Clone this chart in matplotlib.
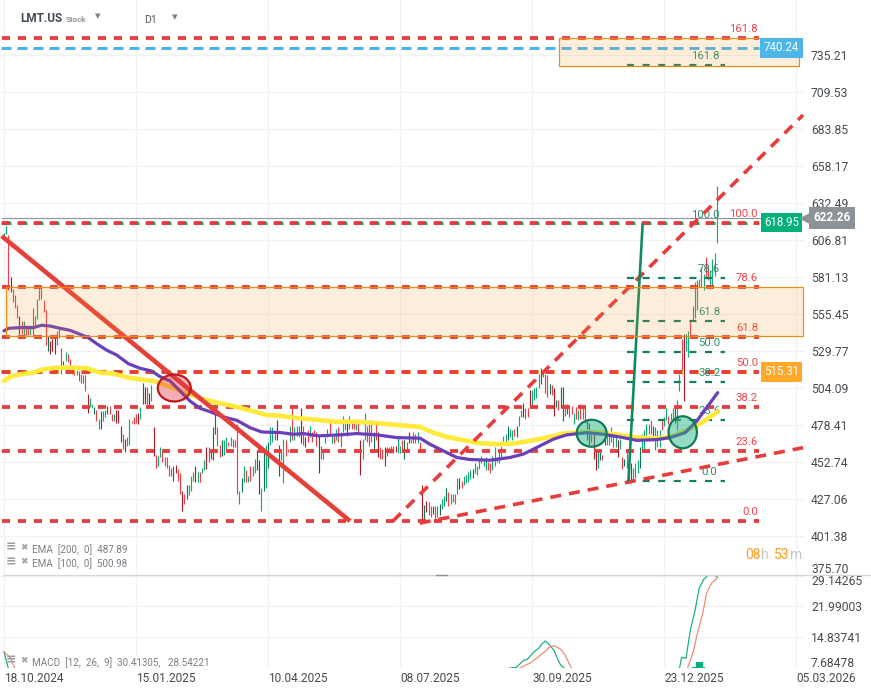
import matplotlib
matplotlib.use("Agg")
import matplotlib.pyplot as plt
from matplotlib.colors import to_rgba
from matplotlib.lines import Line2D
from matplotlib.patches import Ellipse, Rectangle

plt.rcParams["font.family"] = ["Roboto", "DejaVu Sans"]
plt.rcParams["lines.scale_dashes"] = False

W, H = 871, 694

# ---- candles, one high/low per session ----
highs = [
    612, 617, 610, 581, 573, 569, 562, 554, 551, 551,
    548, 547, 548, 560, 554, 566, 575, 575, 565, 558,
    540, 537, 538, 540, 544, 545, 532, 523, 529, 528,
    524, 519, 517, 517, 516, 514, 513, 513, 500, 497,
    493, 491, 489, 483, 488, 488, 489, 492, 492, 486,
    486, 489, 489, 478, 472, 469, 470, 483, 481, 484,
    486, 487, 491, 508, 505, 505, 501, 506, 477, 458,
    457, 463, 460, 456, 456, 451, 449, 450, 451, 448,
    445, 433, 431, 437, 437, 443, 446, 450, 446, 446,
    449, 454, 463, 463, 461, 477, 493, 477, 465, 468,
    468, 470, 467, 470, 469, 468, 479, 433, 442, 450,
    447, 443, 450, 450, 455, 461, 454, 435, 460, 465,
    467, 477, 477, 474, 482, 465,
    460, 469, 468, 462, 478, 490, 477, 478, 478, 490,
    478, 470, 475, 478, 474, 475, 474, 471, 464, 462,
    470, 476, 481, 471, 471, 476, 477, 474, 485, 481,
    482, 485, 482, 481, 479, 482, 468, 469, 487, 478,
    482, 479, 474, 479, 474, 463, 462, 463, 463, 463,
    464, 464, 464, 470, 464, 468, 468, 467, 474, 469,
    474, 472, 474, 467, 437, 423, 426, 425, 422, 422,
    422, 422, 424, 427, 429, 435, 432, 431, 431, 431,
    442, 442, 440, 443, 444, 446, 447, 448, 452, 450,
    455, 457, 455, 456, 453, 452, 457, 463, 456, 461,
    464, 471, 472, 478, 476, 475, 476, 478, 485, 489,
    494, 490, 490, 503, 503, 504, 505, 514, 518, 515,
    514, 513, 507, 506, 504, 496, 496, 505, 505, 493,
    493,
    491, 492, 487, 491, 489, 493, 492, 491, 482, 480,
    475, 472, 461, 460, 460, 458, 472, 471, 472, 477,
    472, 471, 468, 469, 456, 455, 461, 458, 452, 449,
    452, 454, 463, 472, 475, 479, 479, 482, 478, 477,
    475, 475, 483, 484, 490, 485, 487, 490, 491, 496,
    514, 538, 542, 542, 544, 551, 561, 578, 579, 580,
    588, 583, 595, 588, 586, 594, 598, 644,
]
lows = [
    608, 611, 572, 571, 564, 560, 553, 542, 542, 541,
    541, 541, 541, 540, 548, 552, 565, 566, 557, 534,
    530, 528, 530, 528, 534, 539, 514, 520, 523, 522,
    519, 514, 513, 513, 509, 508, 508, 502, 487, 491,
    490, 486, 481, 476, 476, 481, 484, 486, 486, 481,
    481, 480, 480, 467, 462, 460, 464, 465, 480, 479,
    480, 479, 483, 493, 493, 493, 492, 495, 457, 449,
    450, 456, 453, 450, 449, 443, 443, 440, 445, 440,
    431, 419, 424, 427, 430, 433, 440, 439, 439, 439,
    445, 447, 448, 453, 455, 454, 472, 464, 456, 457,
    458, 462, 464, 464, 463, 463, 431, 424, 432, 439,
    439, 439, 440, 443, 445, 447, 431, 419, 433, 435,
    449, 465, 467, 468, 468, 443,
    454, 438, 457, 460, 467, 468, 468, 471, 470, 466,
    465, 463, 467, 470, 467, 471, 464, 445, 455, 455,
    466, 470, 472, 466, 466, 468, 467, 463, 474, 475,
    471, 476, 476, 476, 475, 474, 444, 455, 468, 467,
    464, 467, 462, 468, 456, 455, 455, 450, 457, 459,
    459, 459, 460, 459, 459, 460, 455, 460, 466, 466,
    466, 466, 466, 460, 412, 411, 418, 416, 415, 417,
    413, 415, 416, 420, 422, 426, 422, 424, 425, 424,
    431, 434, 435, 437, 438, 439, 441, 442, 445, 444,
    448, 452, 450, 447, 447, 445, 447, 450, 453, 452,
    456, 467, 465, 468, 470, 468, 471, 470, 478, 484,
    484, 483, 484, 490, 492, 496, 497, 504, 507, 512,
    501, 498, 500, 499, 485, 491, 489, 490, 481, 485,
    486,
    484, 486, 479, 483, 482, 483, 483, 480, 468, 465,
    467, 455, 447, 449, 454, 454, 465, 465, 465, 467,
    463, 463, 456, 462, 448, 450, 449, 439, 438, 439,
    442, 445, 449, 461, 460, 470, 472, 472, 470, 461,
    463, 463, 475, 478, 482, 479, 482, 482, 480, 475,
    502, 514, 495, 530, 526, 539, 551, 553, 558, 574,
    574, 572, 581, 579, 574, 574, 582, 605,
]
# g/r normal candle, G/R where the dark part dominates
bar_dirs = (
    "ggrRrrrRrg" "rrgrgggrrr" "GRRRgrrGgr" "rrrgrrgrRg" "gGrgGggGrr"
    "gRRRrRggrr" "rRgGRrRgRr" "ggrrrrrGRr" "rRrGgggRgr" "ggRrGGGrrG"
    "ggrgrrrgGg" "rgrggGRgGg" "GggrRG"
    "ggrrgrgggR" "rRrgrrrRgg" "ggrgrgrggg" "RgrrgrRggr" "rrGrRrrGrr"
    "rrRggrGrRg" "rrgrRGRrrG" "rgGggGrggr" "gRrggggGgg" "ggggrrgggg"
    "gggGggrGgg" "RrrRggggGg" "rrGrRGrGGr" "G"
    "rrgrgrrrGR" "rRRgGrGggg" "rgRgrGgrGg" "ggGggggrGg" "ggrggrggGg"
    "grRggrgggr" "ggrrggg" "g"
)

# ---- moving averages ----
ema_fast_x = [0, 2, 7.3, 13.3, 17.1, 20.9, 25.5, 30, 34.5, 38.3, 42.1, 46.7, 51.2, 56.5, 61.8,
              67.1, 70.9, 75.5, 80, 84.5, 89.1, 93.6, 99.7, 105.8, 111.8, 117.1, 125.5, 131.5,
              136, 142.9, 152.7, 160.3, 169.4, 178.5, 189.1, 193.6, 199.7, 205.8, 211.8, 220.9,
              230, 236, 242.1, 249.7, 255.8, 264.9, 272.4, 280, 287.6, 296.7, 302.8, 309.6,
              314.9, 319.4, 324.4]
ema_fast_y = [543.8, 545.6, 546.1, 546.1, 547.7, 547.2, 545.6, 544.2, 541.5, 539.1, 535, 530.4,
              527.1, 521.1, 517.9, 516, 512.1, 509.1, 502.2, 495.2, 490.1, 487.8, 484.1, 481.8,
              476.7, 473.7, 473.3, 472.1, 472.6, 471, 471.7, 472.6, 471.7, 469.8, 469.4, 465.2,
              460.6, 456, 454.6, 454.1, 456, 458.3, 462.9, 468.7, 471.7, 473.2, 472.1, 470.2,
              467.9, 468.4, 469.8, 473.2, 481.3, 490.6, 500.98]
ema_slow_x = [0, 2.7, 7.3, 13.3, 17.9, 24, 30, 37.6, 43.6, 49.7, 56.5, 61.8, 67.9, 72.4, 78.5,
              84.5, 90.6, 96.7, 104.2, 111.8, 119.4, 125.5, 134.5, 142.1, 151.2, 160.3, 169.4,
              178.5, 189.1, 195.1, 201.2, 208.8, 216.4, 223.9, 231.5, 239.1, 246.7, 254.2,
              264.9, 272.4, 280, 287.6, 296.7, 302.8, 309.6, 314.9, 319.4, 324.4]
ema_slow_y = [509.1, 511.9, 513.7, 514.9, 517.2, 518.3, 518.3, 517.9, 514.9, 514.2, 511.4, 510.2,
              509.1, 506.8, 503.3, 499.8, 496.4, 494.1, 491.7, 488.7, 485.5, 484.9, 483.2, 482.1,
              480.7, 480.9, 479.8, 478.6, 477.2, 473.3, 470.3, 468, 465.9, 465.2, 465.7, 467.5,
              469.8, 472.6, 473.9, 473.2, 471.6, 469.8, 469.3, 470.2, 474.4, 477.9, 482.5, 487.89]

# ---- horizontal levels ----
red_levels = [747.0, 618.95, 574.6, 539.8, 515.31, 490.9, 460.6, 411.7]
red_names = ["161.8", "100.0", "78.6", "61.8", "50.0", "38.2", "23.6", "0.0"]
green_levels = [728.3, 580.6, 550.5, 529.3, 508.2, 482.0, 439.7]
green_names = ["161.8", "78.6", "61.8", "50.0", "38.2", "23.6", "0.0"]
green_top_level = 618.95
blue_level = 740.24
orange_level = 515.31
last_price = 622.26

# ---- drawn trend lines (bar index, price) ----
falling_x, falling_y = [-1.05, 157.3], [609.6, 411.9]
channel_x, channel_y = [176.8, 363.2], [411.9, 693.6]
support_x, support_y = [189, 363.2], [410.5, 462.8]
impulse_x, impulse_y = [283.8, 290.3], [439.2, 618.5]

# zones: x0, x1, price low, price high
zone_a = (1.05, 363, 540.0, 574.1)
zone_b = (252.4, 361.5, 727.4, 746.8)

# circles: centre bar, centre price, width in bars, height in price
red_circle = (77.4, 504.2, 15, 18.7)
green_circles = [(267.1, 472.8, 13.6, 18.7), (308.5, 473.5, 12.9, 22.2)]

# ---- MACD pane ----
macd_x = [0, 2, None, 230, 233, 234, 236, 238, 240, 241.4, 243, 244.5, 246, 248, 250, 251.5, 253, 255,
          None, 307, 308, 310, 312, 314, 316, 318, 320, 322, 324]
macd_y = [11.5, 7.6, None, 7.75, 7.92, 8.45, 9.45, 9.8, 11.0, 11.7, 12.3, 13.3, 14.0, 13.1, 11.8, 10.0,
          8.45, 7.6, None, 7.6, 10.2, 10.0, 16.6, 20.8, 26.2, 28.2, 29.2, 29.4, 28.9]
signal_x = [0, 3, 5, None, 234.5, 236, 239, 242, 245, 248, 250, 253, 255, 256.5, 258,
            None, 310.6, 313.3, 315.2, 317.6, 319.4, 321.7, 324.4]
signal_y = [11.5, 10, 7.6, None, 7.75, 8.2, 8.85, 10.0, 11.2, 12.6, 12.9, 12.1, 10.8, 9.2, 7.6,
            None, 7.6, 11.5, 15.8, 20.4, 25.1, 27.4, 28.7]
hist_x = [313, 314, 315, 316, 317, 318]
hist_y = [8.05, 8.05, 9.07, 9.07, 9.07, 8.05]

# ---- axes ticks ----
price_ticks = [735.21, 709.53, 683.85, 658.17, 632.49, 606.81, 581.13, 555.45, 529.77, 504.09,
               478.41, 452.74, 427.06, 401.38]
price_floor = 375.70
macd_ticks = [7.68478, 14.83741, 21.99003, 29.14265]
date_pos = [0, 60, 120, 180, 240, 300, 360]
date_labels = ["18.10.2024", "15.01.2025", "10.04.2025", "08.07.2025", "30.09.2025", "23.12.2025", "05.03.2026"]

GRID = "#f1f2f3"
TXT = "#464b50"
RED = "#e83c3c"
GREEN = "#147f5c"
BLUE = "#4db6e8"
ORANGE = "#f59a23"
bar_cols = {"g": "#12a877", "G": "#0a7550", "r": "#f23b45", "R": "#a81c28"}


def pts(px):
    return px * 0.72


fig = plt.figure(figsize=(W / 100, H / 100), dpi=100)
ax = fig.add_axes([0, 1 - 575.5 / H, 805 / W, 575.5 / H])
ax2 = fig.add_axes([0, 1 - 668.3 / H, 805 / W, 92.8 / H])


def ftext(x, y, s, **kw):
    kw.setdefault("va", "center")
    return fig.text(x / W, 1 - y / H, s, **kw)


for a in (ax, ax2):
    a.set_xlim(-1.818, 364.09)
    for sp in a.spines.values():
        sp.set_visible(False)
    a.yaxis.tick_right()
    a.tick_params(length=0, pad=4.3, labelsize=8.7, labelcolor=TXT)
    a.grid(True, color=GRID, lw=pts(1.2))
    a.set_axisbelow(True)
    a.set_xticks(date_pos)

ax.set_ylim(374.13, 773.36)
ax.set_yticks(price_ticks)
ax.set_yticklabels([f"{t:.2f}" for t in price_ticks])
ax.tick_params(labelbottom=False)
ax.annotate(f"{price_floor:.2f}", xy=(1, price_floor), xycoords=("axes fraction", "data"), xytext=(6, 4),
            textcoords="offset pixels", ha="left", va="center", fontsize=8.7, color=TXT, annotation_clip=False)

# candles
colors = [bar_cols[c] for c in bar_dirs]
ax.vlines(range(len(highs)), lows, highs, colors=colors, lw=pts(1.15), zorder=2)

# level lines
x0, x1 = -0.9, 343
ax.plot([x0 - 0.4, x1], [blue_level] * 2, color=BLUE, lw=pts(3), dashes=(pts(10), pts(6)), dash_capstyle="butt", zorder=3)
ax.plot([x0 - 0.4, x1], [green_top_level] * 2, color="#12a877", lw=pts(3), dashes=(pts(10), pts(6)), dash_capstyle="butt", zorder=3)
ax.plot([x0 - 0.4, x1], [orange_level] * 2, color=ORANGE, lw=pts(3.5), dashes=(pts(10), pts(6)), dash_capstyle="butt", zorder=3)
for lv, name in zip(red_levels, red_names):
    ax.plot([x0, x1], [lv, lv], color=RED, lw=pts(3.8), dashes=(pts(8), pts(8)), dash_capstyle="butt", zorder=3.1)
    ax.annotate(name, xy=(342.7, lv), xytext=(0, 9), textcoords="offset pixels", ha="right", va="center",
                color="#e8474c", fontsize=8.2, zorder=3.2)
for lv, name in zip(green_levels, green_names):
    ax.plot([283, 327.5], [lv, lv], color=GREEN, lw=pts(2.2), dashes=(pts(7), pts(8.6)), dash_capstyle="butt", zorder=3)
    lab_x = 318.6 if name == "161.8" else 320.5
    ax.annotate(name, xy=(lab_x, lv), xytext=(0, 9), textcoords="offset pixels", ha="center", va="center",
                color="#2c8f6c", fontsize=8.2, zorder=3.2)
ax.annotate("100.0", xy=(318.6, green_top_level), xytext=(0, 8), textcoords="offset pixels", ha="center", va="center",
            color="#2c8f6c", fontsize=8.2, zorder=3.2)

# last price line
ax.axhline(last_price, color="#8b9398", lw=pts(1.1), xmin=0.003, zorder=3)

# emas
ax.plot(ema_slow_x, ema_slow_y, color="#ffe93b", lw=pts(4.6), solid_capstyle="round", zorder=4)
ax.plot(ema_fast_x, ema_fast_y, color="#6a3fb8", lw=pts(3.2), solid_capstyle="round", zorder=4.1)

# trend lines
ax.plot(falling_x, falling_y, color="#e5403a", lw=pts(4.6), solid_capstyle="butt", zorder=5)
ax.plot(channel_x, channel_y, color=RED, lw=pts(3.6), dashes=(pts(11), pts(8)), dash_capstyle="butt", zorder=5)
ax.plot(support_x, support_y, color=RED, lw=pts(3.6), dashes=(pts(11), pts(8)), dash_capstyle="butt", zorder=5)
ax.plot(impulse_x, impulse_y, color="#0f8a5f", lw=pts(2.6), solid_capstyle="butt", zorder=5)

# circles
cx, cy, cw, ch = red_circle
ax.add_patch(Ellipse((cx, cy), cw, ch, fc=to_rgba("#e0303a", 0.38), ec="#c01818", lw=pts(2.2), zorder=6))
for cx, cy, cw, ch in green_circles:
    ax.add_patch(Ellipse((cx, cy), cw, ch, fc=to_rgba("#1fb583", 0.48), ec="#0f7a55", lw=pts(2.2), zorder=6))

# zones
for zx0, zx1, zp0, zp1 in (zone_a, zone_b):
    ax.add_patch(Rectangle((zx0, zp0), zx1 - zx0, zp1 - zp0, fc=to_rgba(ORANGE, 0.16), ec="#f28c0f", lw=pts(1.2), zorder=7))


# value flags on the right edge of the pane
def flag(price, text, colour):
    ax.annotate(text, xy=(1, price), xycoords=("axes fraction", "data"), xytext=(-23.5, 0), textcoords="offset pixels",
                ha="center", va="center", color="white", fontsize=8.3, zorder=9,
                bbox=dict(boxstyle="square,pad=0.29", fc=colour, ec="none"))


flag(blue_level, "740.24", BLUE)
flag(green_top_level, "618.95", "#00b27a")
flag(orange_level, "515.31", "#ffa726")

# current price tag
ax.plot([1.0], [last_price], transform=ax.get_yaxis_transform(), marker="<", ms=7, color="#8b9398", clip_on=False, zorder=9)
ax.annotate(f"{last_price:.2f}", xy=(1, last_price), xycoords=("axes fraction", "data"), xytext=(27, 0),
            textcoords="offset pixels", ha="center", va="center", color="white", fontsize=8.5, fontweight="bold",
            bbox=dict(boxstyle="square,pad=0.37", fc="#8b9398", ec="none"), annotation_clip=False, zorder=9)

# macd pane
ax2.set_ylim(macd_ticks[0], macd_ticks[-1])
ax2.set_yticks(macd_ticks)
ax2.set_yticklabels(["", f"{macd_ticks[1]:.5f}", f"{macd_ticks[2]:.5f}", ""])
ax2.get_yticklabels()[-1].set_va("top")
ax2.annotate(f"{macd_ticks[0]:.5f}", xy=(1, macd_ticks[0]), xycoords=("axes fraction", "data"), xytext=(6, 5),
             textcoords="offset pixels", ha="left", va="center", fontsize=8.7, color=TXT, annotation_clip=False)
ax2.annotate(f"{macd_ticks[-1]:.5f}", xy=(1, macd_ticks[-1]), xycoords=("axes fraction", "data"), xytext=(6, -6),
             textcoords="offset pixels", ha="left", va="center", fontsize=8.7, color=TXT, annotation_clip=False)
ax2.bar(hist_x, [v - macd_ticks[0] for v in hist_y], bottom=macd_ticks[0], width=1.0, color="#00b27a", zorder=2)
ax2.plot(macd_x, macd_y, color="#12b07e", lw=pts(1.2), zorder=3)
ax2.plot(signal_x, signal_y, color="#ee8a70", lw=pts(1.2), zorder=3)
ax2.set_xticklabels(date_labels, ha="left")
ax2.tick_params(axis="x", pad=2.6, labelsize=8.6)

# pane separator
fig.add_artist(Line2D([3 / W, 1], [1 - 575.3 / H] * 2, color="#d5d7d9", lw=pts(1.3)))
fig.add_artist(Line2D([436 / W, 447 / W], [1 - 575.3 / H] * 2, color="#8a8f94", lw=pts(1.3)))

# header
ftext(20.5, 18.5, "LMT.US", fontsize=8.5, fontweight="bold", color="#3f4a55")
ftext(66, 19, "Stock", fontsize=5.8, fontweight="bold", color="#8f9498")
ftext(98, 16.5, "▼", fontsize=5.2, color="#7c8085", ha="center", family="DejaVu Sans")
ftext(144, 20, "D1", fontsize=7.6, color="#555a5f")
ftext(175, 17.5, "▼", fontsize=5.2, color="#7c8085", ha="center", family="DejaVu Sans")

# indicator captions
for yy, cap in [(549.5, "EMA  [200,  0]  487.89"), (563.7, "EMA  [100,  0]  500.98"),
                (662.3, "MACD  [12,  26,  9]  30.41305,   28.54221")]:
    ftext(31.5, yy, cap, fontsize=7.1, color="#7a7f84")
    ftext(11, yy - 2, "≡", fontsize=9, fontweight="bold", color="#9a9ea2", ha="center", family="DejaVu Sans")
    ftext(23.5, yy - 2, "✖", fontsize=6.5, color="#a0a4a8", ha="center", family="DejaVu Sans")

# countdown
ftext(745, 555, "08", fontsize=10, color="#ff9d1e")
ftext(761, 555, "h", fontsize=10, color="#c4c6c8")
ftext(774, 555, "53", fontsize=10, color="#ff9d1e")
ftext(790, 555, "m", fontsize=10, color="#c4c6c8")

fig.savefig("out.png", dpi=100)
